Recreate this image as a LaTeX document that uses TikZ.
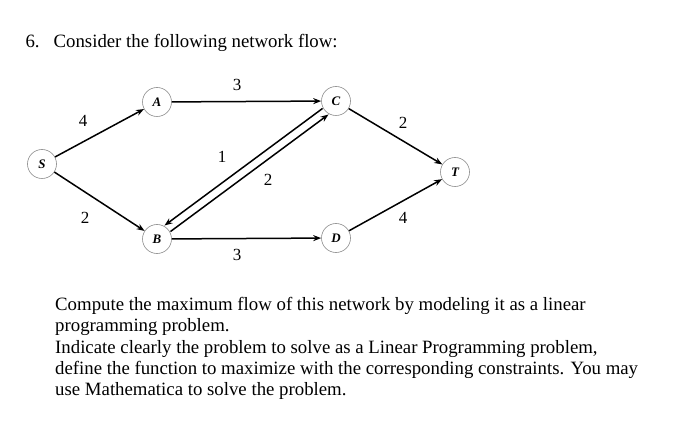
\documentclass[tikz,border=0pt]{standalone}
\usepackage{fontspec}
\setmainfont{Liberation Serif}
\usetikzlibrary{arrows.meta}
\begin{document}
\begin{tikzpicture}[x=1pt,y=-1pt,
  vert/.style={circle,draw=black!45,line width=0.6pt,minimum size=29pt,inner sep=0pt,font=\fontsize{13}{13}\selectfont\bfseries\itshape},
  edge/.style={-{Stealth[length=8pt,width=6pt]},line width=1.5pt},
  lab/.style={font=\fontsize{17}{17}\selectfont}]
\useasboundingbox (0,0) rectangle (700,443);
\node[vert] (S) at (42,164) {S};
\node[vert] (A) at (157,102) {A};
\node[vert] (C) at (336,101) {C};
\node[vert] (T) at (455,172) {T};
\node[vert] (B) at (157,239) {B};
\node[vert] (D) at (336,238) {D};
\draw[edge] (S) -- (A);
\draw[edge] (S) -- (B);
\draw[edge] (A) -- (C);
\draw[edge] (B) -- (D);
\draw[edge] (C) -- (T);
\draw[edge] (D) -- (T);
\draw[edge] ([shift={(-3,-3)}]C.south west) -- ([shift={(-3,-3)}]B.north east);
\draw[edge] ([shift={(3,3)}]B.north east) -- ([shift={(3,3)}]C.south west);
\node[lab] (l1) at (237,85) {3};
\node[lab] (l2) at (83,121) {4};
\node[lab] (l3) at (222,157) {1};
\node[lab] (l4) at (268,180) {2};
\node[lab] (l5) at (403,123) {2};
\node[lab] (l6) at (85,218) {2};
\node[lab] (l7) at (237,255) {3};
\node[lab] (l8) at (403,218) {4};
\node[anchor=base west,font=\fontsize{18.8}{21}\selectfont] (q) at (22,48) {6.\hspace{14pt}Consider the following network flow:};
\node[anchor=north west,align=left,inner sep=0pt,font=\fontsize{18.8}{21.3}\selectfont] (p) at (55,297) {Compute the maximum flow of this network by modeling it as a linear\\programming problem.\\Indicate clearly the problem to solve as a Linear Programming problem,\\define the function to maximize with the corresponding constraints. You may\\use Mathematica to solve the problem.};
\end{tikzpicture}
\end{document}
